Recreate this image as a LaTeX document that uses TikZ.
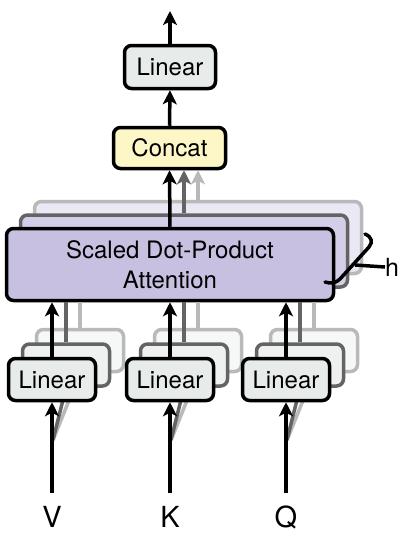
\documentclass[tikz,border=0pt]{standalone}
\usepackage{fontspec}
\setmainfont{TeX Gyre Heros}
\usetikzlibrary{arrows.meta,calc}
\definecolor{lav}{RGB}{200,192,225}
\definecolor{lavmid}{RGB}{212,206,232}
\definecolor{lavback}{RGB}{234,232,244}
\definecolor{concatc}{RGB}{253,246,198}
\definecolor{linc}{RGB}{231,236,234}
\definecolor{linmid}{RGB}{238,241,240}
\definecolor{linback}{RGB}{246,248,247}
\definecolor{midgray}{RGB}{100,100,100}
\definecolor{lightgray2}{RGB}{185,185,185}
\tikzset{
  box/.style={draw=black, line width=3.5pt, rounded corners=7pt, inner sep=0pt, font=\fontsize{24}{30}\selectfont},
  midbox/.style={box, draw=midgray},
  backbox/.style={box, draw=lightgray2},
  linbox/.style={minimum width=87pt, minimum height=42pt},
  sdpabox/.style={minimum width=327pt, minimum height=72pt},
  arr/.style={line width=3.5pt, -{Stealth[length=14pt,width=14pt,inset=3.5pt]}},
  lineonly/.style={line width=3.5pt},
  lbl/.style={font=\fontsize{29}{34}\selectfont, inner sep=0pt}
}
\begin{document}
\begin{tikzpicture}[x=1pt,y=-1pt]
\useasboundingbox (0,0) rectangle (414,550);
% ---- top linear and concat
\node[box, fill=linc, minimum width=91pt, minimum height=43pt] (lin) at (170,67) {Linear};
\node[box, fill=concatc, minimum width=112pt, minimum height=41pt] (concat) at (169.5,148) {Concat};
\coordinate (out) at (170,11);
% ---- SDPA back layers
\node[backbox, fill=lavback, sdpabox] (sdpa3) at (198,237.5) {};
\node[midbox, fill=lavmid, sdpabox] (sdpa2) at (184,251) {};
\draw[arr, draw=lightgray2] (sdpa3.north) -- (sdpa3.north |- concat.south);
\draw[arr, draw=midgray] (sdpa2.north) -- (sdpa2.north |- concat.south);
% ---- linear stacks
\foreach \n/\x in {v/52,k/170,q/286}{
  \node[backbox, fill=linback, linbox] (\n3) at (\x+28,350.5) {};
}
\foreach \n/\x in {v/52,k/170,q/286}{
  \node[midbox, fill=linmid, linbox] (\n2) at (\x+14,365) {};
}
\foreach \n/\x in {v/52,k/170,q/286}{
  \coordinate (\n src) at (\x,493);
  \coordinate (\n diag) at (\x+1,440);
  \draw[lineonly, draw=lightgray2] (\n diag) -- (\n3.south);
  \draw[lineonly, draw=midgray] (\n diag) -- (\n2.south);
}
% ---- SDPA front
\node[box, fill=lav, sdpabox, align=center] (sdpa1) at (170,264.5) {Scaled Dot-Product\\Attention};
\foreach \n in {v,k,q}{
  \draw[lineonly, draw=lightgray2] (\n3.north) -- (\n3.north |- sdpa1.south);
  \draw[lineonly, draw=midgray] (\n2.north) -- (\n2.north |- sdpa1.south);
}
\draw[arr] (sdpa1.north) -- (concat.south);
\draw[arr] (concat.north) -- (lin.south);
\draw[arr] (lin.north) -- (out);
% ---- front linears and inputs
\node[box, fill=linc, linbox] (v1) at (52,379.5) {Linear};
\node[box, fill=linc, linbox] (k1) at (170,379.5) {Linear};
\node[box, fill=linc, linbox] (q1) at (286,379.5) {Linear};
\foreach \n in {v,k,q}{
  \draw[arr] (\n src) -- (\n1.south);
  \draw[arr] (\n1.north) -- (\n1.north |- sdpa1.south);
}
\node[lbl] (V) at (52,517) {V};
\node[lbl] (K) at (170,517) {K};
\node[lbl] (Q) at (286,517) {Q};
% ---- brace and h
\node[font=\fontsize{25}{30}\selectfont, inner sep=0pt, anchor=west] (h) at (385,267) {h};
\coordinate (bmid) at (355,265);
\draw[lineonly, line cap=round] (365,234) .. controls (372,237) and (373,242) .. (369,247) -- (340,279) .. controls (336,283) and (331,284) .. (325,282);
\draw[lineonly] (bmid) -- (h.west);
\end{tikzpicture}
\end{document}
